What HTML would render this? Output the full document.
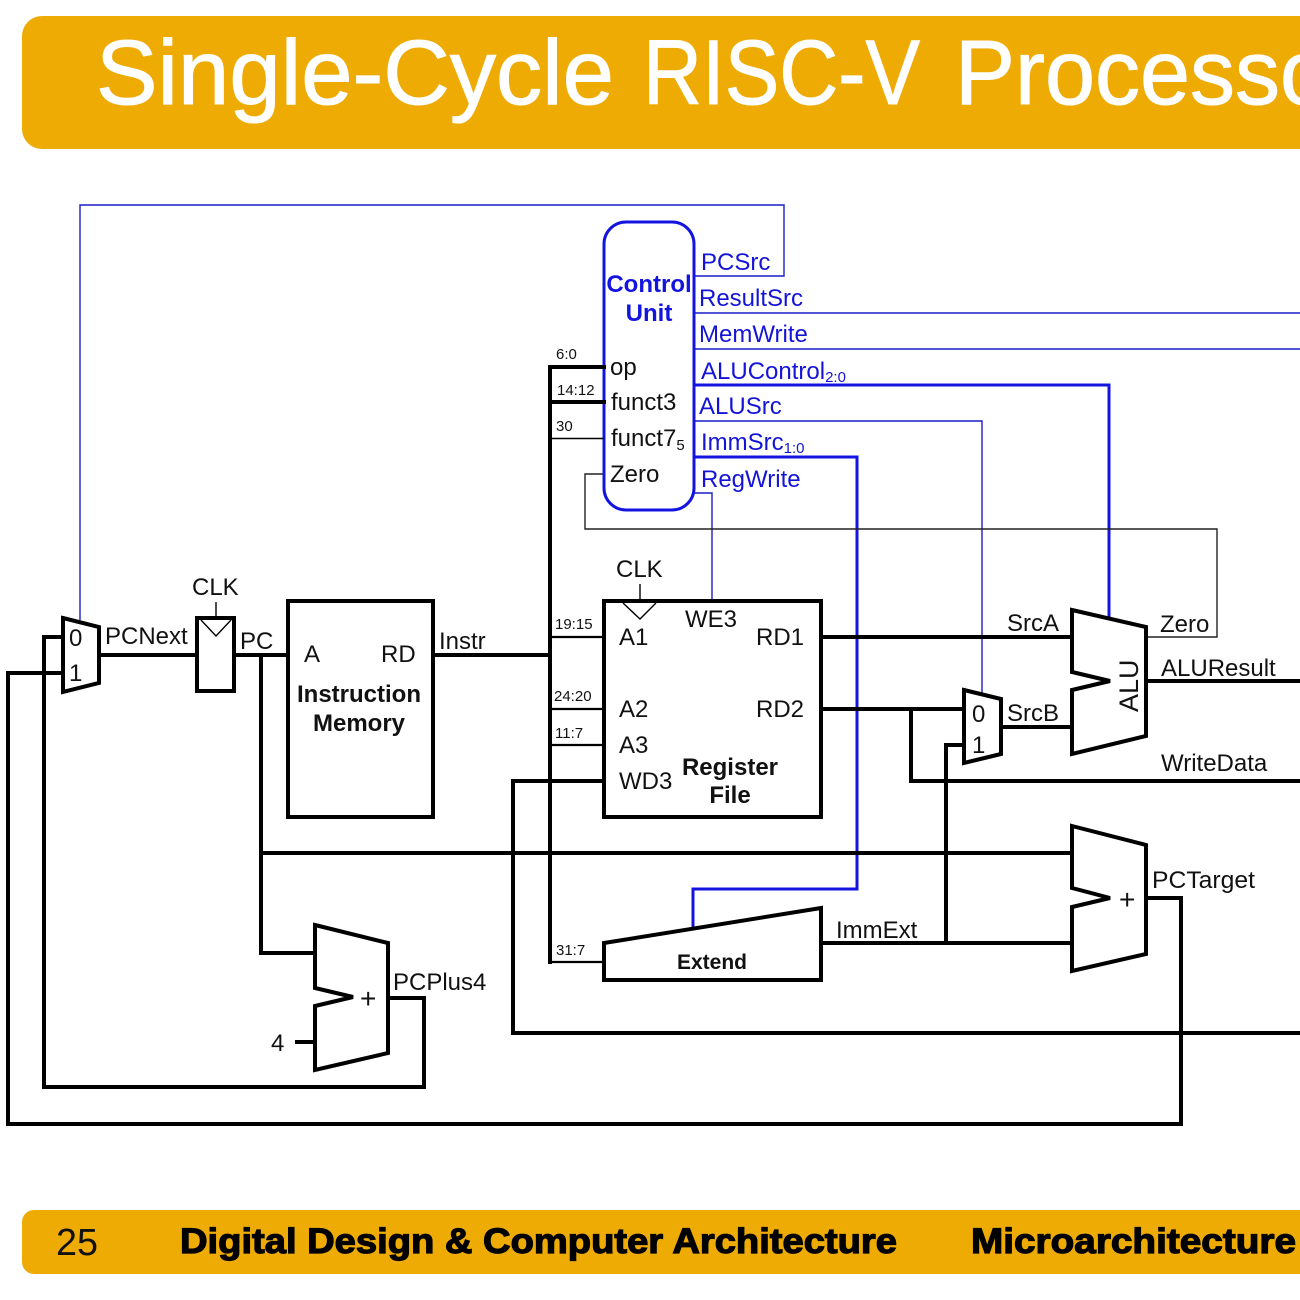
<!DOCTYPE html>
<html><head><meta charset="utf-8"><style>
html,body{margin:0;padding:0;background:#fff}
svg{display:block}
text{font-family:"Liberation Sans",sans-serif}
.l{font-size:24px;fill:#111}
.b{font-size:24px;fill:#1414d8}
.s{font-size:15px;fill:#111}
.h{font-weight:bold;font-size:24px;fill:#111;text-anchor:middle}
.sub{font-size:15px}
.k{fill:none;stroke:#000;stroke-width:4;stroke-linejoin:miter;stroke-linecap:square}
.m{fill:none;stroke:#000;stroke-width:2.2}
.t{fill:none;stroke:#1c1cc8;stroke-width:1.4}
.u{fill:none;stroke:#1414e0;stroke-width:3}
.g{fill:none;stroke:#222;stroke-width:1.4}
</style></head><body>
<svg width="1300" height="1300" viewBox="0 0 1300 1300" xmlns="http://www.w3.org/2000/svg">
<rect width="1300" height="1300" fill="#fff"/>
<rect x="22" y="16" width="1340" height="133" rx="20" fill="#eeab04"/>
<text x="96" y="104" font-size="92" fill="#fff" stroke="#fff" stroke-width="1" textLength="518" lengthAdjust="spacingAndGlyphs">Single-Cycle</text>
<text x="643" y="104" font-size="92" fill="#fff" stroke="#fff" stroke-width="1" textLength="277" lengthAdjust="spacingAndGlyphs">RISC-V</text>
<text x="955" y="104" font-size="92" fill="#fff" stroke="#fff" stroke-width="1" textLength="405" lengthAdjust="spacingAndGlyphs">Processor</text>

<rect x="22" y="1210" width="1340" height="64" rx="12" fill="#eeab04"/>
<text x="56" y="1255" font-size="38" fill="#111" textLength="42" lengthAdjust="spacingAndGlyphs">25</text>
<text x="180" y="1253" font-size="35" font-weight="bold" fill="#000" stroke="#000" stroke-width="1.2" textLength="717" lengthAdjust="spacingAndGlyphs">Digital Design &amp; Computer Architecture</text>
<text x="971" y="1253" font-size="35" font-weight="bold" fill="#000" stroke="#000" stroke-width="1.2" textLength="325" lengthAdjust="spacingAndGlyphs">Microarchitecture</text>

<!-- thin blue -->
<polyline class="t" points="80,620 80,205 784,205 784,276 694,276"/>
<polyline class="t" points="694,313 1300,313"/>
<polyline class="t" points="694,349 1300,349"/>
<polyline class="t" points="694,421 982,421 982,696"/>
<polyline class="t" points="694,493 712,493 712,601"/>
<polyline class="u" points="694,385 1109,385 1109,617"/>
<polyline class="u" points="694,457 857,457 857,889 693,889 693,927"/>
<polyline class="g" points="604,474 585,474 585,529 1217,529 1217,637 1146,637"/>

<!-- control unit -->
<rect x="604" y="222" width="90" height="288" rx="22" fill="none" stroke="#1414e0" stroke-width="3"/>
<text x="649" y="292" font-size="24" font-weight="bold" fill="#1414e0" text-anchor="middle">Control</text>
<text x="649" y="321" font-size="24" font-weight="bold" fill="#1414e0" text-anchor="middle">Unit</text>

<!-- decode bus -->
<polyline class="k" points="604,367 550,367 550,962"/>
<line class="k" x1="550" y1="402" x2="604" y2="402"/>
<line class="g" style="stroke:#000" x1="550" y1="438.500" x2="604" y2="438.500"/>
<line class="m" x1="550" y1="637" x2="604" y2="637"/>
<line class="m" x1="550" y1="709" x2="604" y2="709"/>
<line class="m" x1="550" y1="745" x2="604" y2="745"/>
<line class="m" x1="550" y1="962" x2="604" y2="962"/>
<line class="k" x1="433" y1="655" x2="550" y2="655"/>

<!-- PC path -->
<polygon class="k" points="63,618 99,627 99,683 63,692"/>
<polyline class="k" points="63,637 44,637 44,1087 424,1087 424,998 388,998"/>
<polyline class="k" points="63,673 8,673 8,1124 1181,1124 1181,898 1146,898"/>
<line class="k" x1="99" y1="655" x2="197" y2="655"/>
<rect class="k" x="197" y="618" width="37" height="73"/>
<polyline class="g" style="stroke:#000" points="201,620 216,636 231,620"/>
<line class="g" style="stroke:#000" x1="216" y1="602" x2="216" y2="618"/>
<line class="k" x1="234" y1="655" x2="288" y2="655"/>
<polyline class="k" points="261,655 261,953 315,953"/>
<line class="k" x1="261" y1="853" x2="1072" y2="853"/>

<rect class="k" x="288" y="601" width="145" height="216"/>

<!-- adders -->
<polygon class="k" points="315,925 388,943 388,1053 315,1070 315,1006 353,997 315,988"/>
<line class="k" x1="297" y1="1042" x2="315" y2="1042"/>
<polygon class="k" points="1072,826 1146,845 1146,954 1072,971 1072,907 1110,898 1072,888"/>
<polygon class="k" points="1072,610 1146,627 1146,736 1072,754 1072,690 1110,681 1072,672"/>

<!-- register file -->
<rect class="k" x="604" y="601" width="217" height="216"/>
<polyline class="g" style="stroke:#000" points="623,603 640,619 656,603"/>
<line class="g" style="stroke:#000" x1="640" y1="584" x2="640" y2="601"/>
<polyline class="k" points="604,781 513,781 513,1033 1300,1033"/>
<line class="k" x1="821" y1="637" x2="1072" y2="637"/>
<line class="k" x1="821" y1="709" x2="963" y2="709"/>
<polyline class="k" points="911,709 911,781 1300,781"/>
<polygon class="k" points="964,690 1001,699 1001,754 964,763"/>
<polyline class="k" points="964,745 946,745 946,943"/>
<line class="k" x1="1001" y1="727" x2="1072" y2="727"/>
<line class="k" x1="1146" y1="681" x2="1300" y2="681"/>

<!-- extend -->
<polygon class="k" points="604,943 821,908 821,980 604,980"/>
<line class="k" x1="821" y1="943" x2="1072" y2="943"/>

<!-- black labels -->
<text class="l" x="192" y="595">CLK</text>
<text class="l" x="105" y="644">PCNext</text>
<text class="l" x="240" y="649">PC</text>
<text class="l" x="304" y="662">A</text>
<text class="l" x="381" y="662">RD</text>
<text class="l" x="439" y="649">Instr</text>
<text class="h" x="359" y="702">Instruction</text>
<text class="h" x="359" y="731">Memory</text>
<text class="l" x="616" y="577">CLK</text>
<text class="l" x="685" y="627">WE3</text>
<text class="l" x="619" y="645">A1</text>
<text class="l" x="756" y="645">RD1</text>
<text class="l" x="619" y="717">A2</text>
<text class="l" x="756" y="717">RD2</text>
<text class="l" x="619" y="753">A3</text>
<text class="l" x="619" y="789">WD3</text>
<text class="h" x="730" y="775">Register</text>
<text class="h" x="730" y="803">File</text>
<text class="l" x="610" y="375">op</text>
<text class="l" x="611" y="410">funct3</text>
<text class="l" x="611" y="446">funct7<tspan class="sub" dy="4">5</tspan></text>
<text class="l" x="610" y="482">Zero</text>
<text class="s" x="556" y="359">6:0</text>
<text class="s" x="557" y="395">14:12</text>
<text class="s" x="556" y="431">30</text>
<text class="s" x="555" y="629">19:15</text>
<text class="s" x="554" y="701">24:20</text>
<text class="s" x="555" y="738">11:7</text>
<text class="s" x="556" y="955">31:7</text>
<text class="l" x="1007" y="631">SrcA</text>
<text class="l" x="1007" y="721">SrcB</text>
<text class="l" x="1160" y="632">Zero</text>
<text class="l" x="1161" y="676">ALUResult</text>
<text class="l" x="1161" y="771">WriteData</text>
<text class="l" x="1152" y="888" textLength="103" lengthAdjust="spacingAndGlyphs">PCTarget</text>
<text class="l" x="836" y="938">ImmExt</text>
<text class="l" x="393" y="990">PCPlus4</text>
<text class="l" x="271" y="1051">4</text>
<text x="360" y="1008" font-size="28" fill="#111">+</text>
<text x="1119" y="909" font-size="28" fill="#111">+</text>
<text font-size="27" fill="#111" transform="translate(1138,712) rotate(-90)">ALU</text>
<text class="l" x="69" y="646">0</text>
<text class="l" x="69" y="681">1</text>
<text class="l" x="972" y="722">0</text>
<text class="l" x="972" y="753">1</text>
<text x="712" y="969" font-size="21" font-weight="bold" fill="#111" text-anchor="middle">Extend</text>

<!-- blue labels -->
<text class="b" x="701" y="270">PCSrc</text>
<text class="b" x="699" y="306">ResultSrc</text>
<text class="b" x="699" y="342">MemWrite</text>
<text class="b" x="701" y="379">ALUControl<tspan class="sub" dy="3">2:0</tspan></text>
<text class="b" x="699" y="414">ALUSrc</text>
<text class="b" x="701" y="450">ImmSrc<tspan class="sub" dy="3">1:0</tspan></text>
<text class="b" x="701" y="487">RegWrite</text>
</svg>
</body></html>
